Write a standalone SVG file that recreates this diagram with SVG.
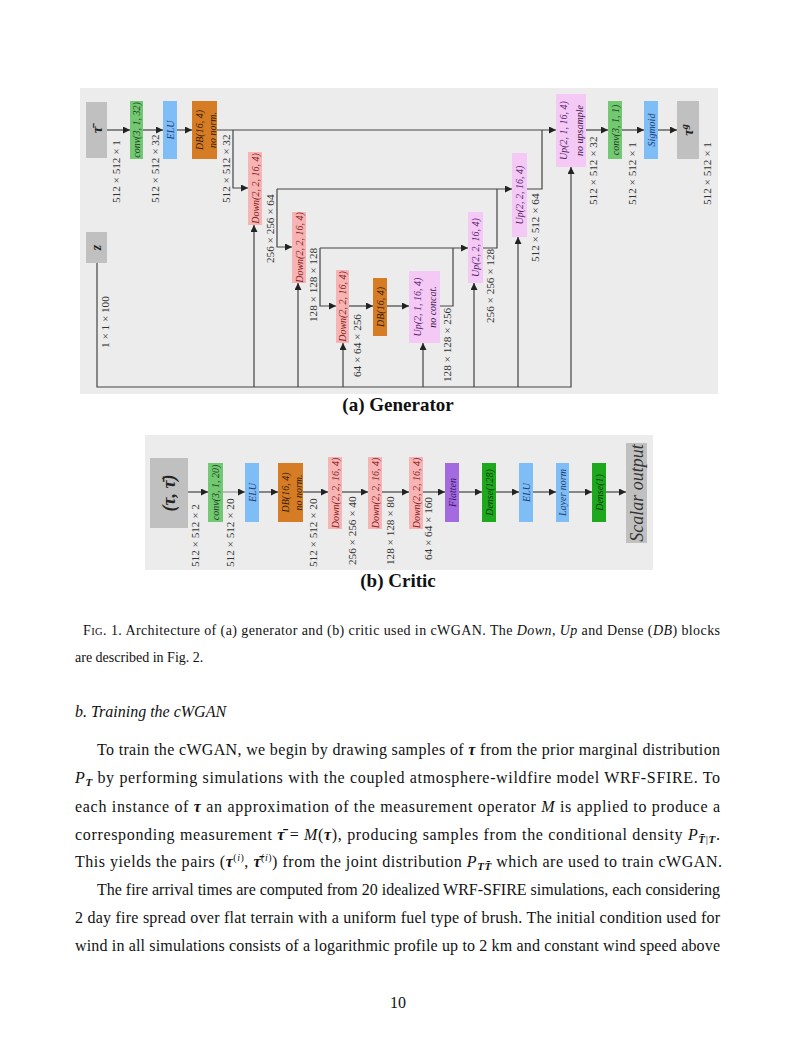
<svg xmlns="http://www.w3.org/2000/svg" width="787" height="1050" viewBox="0 0 787 1050">
<defs>
<marker id="ah" viewBox="0 0 10 10" refX="10" refY="5" markerWidth="7" markerHeight="7" markerUnits="userSpaceOnUse" orient="auto">
<path d="M0,0 L10,5 L0,10 z" fill="#222"/>
</marker>
</defs>
<style>
.panel{fill:#ececec}
.gray{fill:#c0c0c0}
.green{fill:#72c972}
.dgreen{fill:#1ea81e}
.blue{fill:#7fbdf6}
.orange{fill:#d57c25}
.pink{fill:#f7b4b4}
.lilac{fill:#f5c9f5}
.purple{fill:#a46be0}
.bl{font-family:"Liberation Serif","DejaVu Serif",serif;font-size:10px;font-style:italic;text-anchor:middle}
.dim{font-family:"Liberation Serif","DejaVu Serif",serif;font-size:11.2px;fill:#333}
.c{fill:none;stroke:#444;stroke-width:1.2}
.ca{fill:none;stroke:#444;stroke-width:1.2;marker-end:url(#ah)}
.tx{font-family:"Liberation Serif","Times New Roman",serif;font-size:16px;fill:#111}
.cap{font-family:"Liberation Serif","Times New Roman",serif;font-size:14px;fill:#111}
.ttl{font-family:"Liberation Serif","Times New Roman",serif;font-size:19px;font-weight:bold;fill:#111;text-anchor:middle}
.m{font-style:italic;font-weight:bold}
.i{font-style:italic}
</style>

<rect class="panel" x="80" y="88" width="638" height="306"/>
<rect class="panel" x="145" y="435" width="508" height="135"/>

<g id="connectors">
<path class="ca" d="M107,130 H130"/>
<path class="ca" d="M143,130 H163"/>
<path class="ca" d="M177,130 H192"/>
<path class="ca" d="M217,130 H556"/>
<path class="ca" d="M233,130 V188 H248"/>
<path class="ca" d="M277,189 H512"/>
<path class="ca" d="M277,189 V247 H292"/>
<path class="ca" d="M320,248 H468"/>
<path class="ca" d="M320,248 V306 H336"/>
<path class="ca" d="M349,306 H373"/>
<path class="ca" d="M387,306 H409"/>
<path class="c" d="M440,306 H453 V248"/>
<path class="c" d="M483,248 H497 V189"/>
<path class="c" d="M527,189 H542 V130"/>
<path class="ca" d="M586,130 H608"/>
<path class="ca" d="M622,130 H644"/>
<path class="ca" d="M658,130 H677"/>
<path class="ca" d="M97,263 V387 H571 V167"/>
<path class="ca" d="M254,387 V225"/>
<path class="ca" d="M298,387 V283"/>
<path class="ca" d="M343,387 V343"/>
<path class="ca" d="M423,387 V343"/>
<path class="ca" d="M474,387 V283"/>
<path class="ca" d="M518,387 V237"/>
<path class="ca" d="M188,492 H208"/>
<path class="ca" d="M223,492 H245" style="stroke:#999"/>
<path class="ca" d="M259,492 H278"/>
<path class="ca" d="M303,492 H328"/>
<path class="ca" d="M342,492 H368"/>
<path class="ca" d="M382,492 H409"/>
<path class="ca" d="M423,492 H445"/>
<path class="ca" d="M459,492 H482"/>
<path class="ca" d="M496,492 H519"/>
<path class="ca" d="M533,492 H556"/>
<path class="ca" d="M569,492 H592"/>
<path class="ca" d="M606,492 H626"/>
</g>

<!-- Generator nodes -->
<g id="g-taubar">
<rect class="gray" x="86" y="102" width="21" height="56"/>
<text transform="translate(96.5,130) rotate(-90)" dy="0.35em" style="font-family:'Liberation Serif',serif;font-size:15px;font-weight:bold;font-style:italic;text-anchor:middle;fill:#222">τ̄</text>
</g>
<g id="g-conv">
<rect class="green" x="130" y="101" width="13" height="58"/>
<text class="bl" transform="translate(136.5,130) rotate(-90)" dy="0.35em" fill="#1d3d1d">conv(3, 1, 32)</text>
</g>
<g id="g-elu">
<rect class="blue" x="163" y="101" width="14" height="58"/>
<text class="bl" transform="translate(170,130) rotate(-90)" dy="0.35em" fill="#1b3d7a">ELU</text>
</g>
<g id="g-db1">
<rect class="orange" x="192" y="101" width="25" height="58"/>
<text class="bl" transform="translate(199,130) rotate(-90)" dy="0.35em" fill="#3a1e05">DB(16, 4)</text>
<text class="bl" transform="translate(212,130) rotate(-90)" dy="0.35em" fill="#3a1e05">no norm.</text>
</g>
<g id="g-down1">
<rect class="pink" x="248" y="152" width="14" height="73"/>
<text class="bl" transform="translate(255,188.5) rotate(-90)" dy="0.35em" fill="#8a1c1c">Down(2, 2, 16, 4)</text>
</g>
<g id="g-down2">
<rect class="pink" x="292" y="212" width="14" height="71"/>
<text class="bl" transform="translate(299,247.5) rotate(-90)" dy="0.35em" fill="#8a1c1c">Down(2, 2, 16, 4)</text>
</g>
<g id="g-down3">
<rect class="pink" x="336" y="270" width="13" height="73"/>
<text class="bl" transform="translate(342.5,306.5) rotate(-90)" dy="0.35em" fill="#8a1c1c">Down(2, 2, 16, 4)</text>
</g>
<g id="g-db2">
<rect class="orange" x="373" y="278" width="14" height="58"/>
<text class="bl" transform="translate(380,307) rotate(-90)" dy="0.35em" fill="#3a1e05">DB(16, 4)</text>
</g>
<g id="g-upnc">
<rect class="lilac" x="409" y="271" width="31" height="72"/>
<text class="bl" transform="translate(417,307) rotate(-90)" dy="0.35em" fill="#5a1f6e">Up(2, 1, 16, 4)</text>
<text class="bl" transform="translate(432,307) rotate(-90)" dy="0.35em" fill="#3a1a4a">no concat.</text>
</g>
<g id="g-uplow">
<rect class="lilac" x="468" y="212" width="15" height="71"/>
<text class="bl" transform="translate(475.5,247.5) rotate(-90)" dy="0.35em" fill="#5a1f6e">Up(2, 2, 16, 4)</text>
</g>
<g id="g-upup">
<rect class="lilac" x="512" y="153" width="15" height="84"/>
<text class="bl" transform="translate(519.5,195) rotate(-90)" dy="0.35em" fill="#5a1f6e">Up(2, 2, 16, 4)</text>
</g>
<g id="g-upnu">
<rect class="lilac" x="556" y="94" width="30" height="73"/>
<text class="bl" transform="translate(563,130.5) rotate(-90)" dy="0.35em" fill="#5a1f6e">Up(2, 1, 16, 4)</text>
<text class="bl" transform="translate(579,130.5) rotate(-90)" dy="0.35em" fill="#3a1a4a">no upsample</text>
</g>
<g id="g-conv2">
<rect class="green" x="608" y="101" width="14" height="58"/>
<text class="bl" transform="translate(615,130) rotate(-90)" dy="0.35em" fill="#1d3d1d">conv(3, 1, 1)</text>
</g>
<g id="g-sig">
<rect class="blue" x="644" y="101" width="14" height="58"/>
<text class="bl" transform="translate(651,130) rotate(-90)" dy="0.35em" fill="#1b3d7a">Sigmoid</text>
</g>
<g id="g-taug">
<rect class="gray" x="677" y="101" width="22" height="58"/>
<text transform="translate(688,130) rotate(-90)" dy="0.35em" style="font-family:'Liberation Serif',serif;font-size:15px;font-weight:bold;font-style:italic;text-anchor:middle;fill:#222">τ<tspan dy="-5" style="font-size:10px">g</tspan></text>
</g>
<g id="g-z">
<rect class="gray" x="86" y="232" width="21" height="31"/>
<text transform="translate(96.5,247.5) rotate(-90)" dy="0.35em" style="font-family:'Liberation Serif',serif;font-size:14px;font-weight:bold;font-style:italic;text-anchor:middle;fill:#222">z</text>
</g>

<!-- Generator dims -->
<g id="g-dims">
<text class="dim" transform="translate(120,203) rotate(-90)">512 × 512 × 1</text>
<text class="dim" transform="translate(159,203) rotate(-90)">512 × 512 × 32</text>
<text class="dim" transform="translate(230,203) rotate(-90)">512 × 512 × 32</text>
<text class="dim" transform="translate(274,263) rotate(-90)">256 × 256 × 64</text>
<text class="dim" transform="translate(317,322) rotate(-90)">128 × 128 × 128</text>
<text class="dim" transform="translate(361,377) rotate(-90)">64 × 64 × 256</text>
<text class="dim" transform="translate(451,382) rotate(-90)">128 × 128 × 256</text>
<text class="dim" transform="translate(494,323) rotate(-90)">256 × 256 × 128</text>
<text class="dim" transform="translate(539,262) rotate(-90)">512 × 512 × 64</text>
<text class="dim" transform="translate(597,205) rotate(-90)">512 × 512 × 32</text>
<text class="dim" transform="translate(636,205) rotate(-90)">512 × 512 × 1</text>
<text class="dim" transform="translate(711,205) rotate(-90)">512 × 512 × 1</text>
<text class="dim" transform="translate(109,348) rotate(-90)">1 × 1 × 100</text>
</g>

<text class="ttl" x="398" y="411">(a) Generator</text>

<!-- Critic nodes -->
<g id="c-in">
<rect class="gray" x="150" y="458" width="38" height="70"/>
<text transform="translate(169,493) rotate(-90)" dy="0.35em" style="font-family:'Liberation Serif',serif;font-size:18px;font-weight:bold;font-style:italic;text-anchor:middle;fill:#222">(τ, τ̄)</text>
</g>
<g id="c-conv">
<rect class="green" x="208" y="463" width="15" height="59"/>
<text class="bl" transform="translate(215.5,492.5) rotate(-90)" dy="0.35em" fill="#1d3d1d">conv(3, 1, 20)</text>
</g>
<g id="c-elu">
<rect class="blue" x="245" y="463" width="14" height="59"/>
<text class="bl" transform="translate(252,492.5) rotate(-90)" dy="0.35em" fill="#1b3d7a">ELU</text>
</g>
<g id="c-db">
<rect class="orange" x="278" y="463" width="25" height="59"/>
<text class="bl" transform="translate(285,492.5) rotate(-90)" dy="0.35em" fill="#3a1e05">DB(16, 4)</text>
<text class="bl" transform="translate(298,492.5) rotate(-90)" dy="0.35em" fill="#3a1e05">no norm.</text>
</g>
<g id="c-down1">
<rect class="pink" x="328" y="457" width="14" height="72"/>
<text class="bl" transform="translate(335,493) rotate(-90)" dy="0.35em" fill="#8a1c1c">Down(2, 2, 16, 4)</text>
</g>
<g id="c-down2">
<rect class="pink" x="368" y="457" width="14" height="72"/>
<text class="bl" transform="translate(375,493) rotate(-90)" dy="0.35em" fill="#8a1c1c">Down(2, 2, 16, 4)</text>
</g>
<g id="c-down3">
<rect class="pink" x="409" y="457" width="14" height="72"/>
<text class="bl" transform="translate(416,493) rotate(-90)" dy="0.35em" fill="#8a1c1c">Down(2, 2, 16, 4)</text>
</g>
<g id="c-flat">
<rect class="purple" x="445" y="463" width="14" height="59"/>
<text class="bl" transform="translate(452,492.5) rotate(-90)" dy="0.35em" fill="#3a1466">Flatten</text>
</g>
<g id="c-dense128">
<rect class="dgreen" x="482" y="463" width="14" height="59"/>
<text class="bl" transform="translate(489,492.5) rotate(-90)" dy="0.35em" fill="#0b3d0b">Dense(128)</text>
</g>
<g id="c-elu2">
<rect class="blue" x="519" y="463" width="14" height="59"/>
<text class="bl" transform="translate(526,492.5) rotate(-90)" dy="0.35em" fill="#1b3d7a">ELU</text>
</g>
<g id="c-ln">
<rect class="blue" x="556" y="463" width="13" height="59"/>
<text class="bl" transform="translate(562.5,492.5) rotate(-90)" dy="0.35em" fill="#1b3d7a">Layer norm</text>
</g>
<g id="c-dense1">
<rect class="dgreen" x="592" y="463" width="14" height="59"/>
<text class="bl" transform="translate(599,492.5) rotate(-90)" dy="0.35em" fill="#0b3d0b">Dense(1)</text>
</g>
<g id="c-out">
<rect class="gray" x="626" y="443" width="21" height="100"/>
<text transform="translate(636.5,493) rotate(-90)" dy="0.35em" style="font-family:'Liberation Serif',serif;font-size:18px;font-style:italic;text-anchor:middle;fill:#333">Scalar output</text>
</g>

<g id="c-dims">
<text class="dim" transform="translate(199,567) rotate(-90)">512 × 512 × 2</text>
<text class="dim" transform="translate(234,567) rotate(-90)">512 × 512 × 20</text>
<text class="dim" transform="translate(317,567) rotate(-90)">512 × 512 × 20</text>
<text class="dim" transform="translate(356,565) rotate(-90)">256 × 256 × 40</text>
<text class="dim" transform="translate(394,565) rotate(-90)">128 × 128 × 80</text>
<text class="dim" transform="translate(432,560) rotate(-90)">64 × 64 × 160</text>
</g>

<text class="ttl" x="398" y="587">(b) Critic</text>

<!-- Caption and body text -->
<text class="cap" x="83" y="635" textLength="637" lengthAdjust="spacing">F<tspan style="font-size:10.5px">IG</tspan>. 1.  Architecture of (a) generator and (b) critic used in cWGAN. The <tspan class="i">Down</tspan>, <tspan class="i">Up</tspan> and Dense (<tspan class="i">DB</tspan>) blocks</text>
<text class="cap" x="75" y="662">are described in Fig. 2.</text>

<text class="tx i" x="75" y="717">b. Training the cWGAN</text>

<text class="tx" x="97" y="755" textLength="623" lengthAdjust="spacing">To train the cWGAN, we begin by drawing samples of <tspan class="m">τ</tspan> from the prior marginal distribution</text>
<text class="tx" x="75" y="783" textLength="645" lengthAdjust="spacing"><tspan class="i">P</tspan><tspan class="m" style="font-size:11px" dy="3">T</tspan><tspan dy="-3"> by performing simulations with the coupled atmosphere-wildfire model WRF-SFIRE. To</tspan></text>
<text class="tx" x="75" y="812" textLength="645" lengthAdjust="spacing">each instance of <tspan class="m">τ</tspan> an approximation of the measurement operator <tspan class="i">M</tspan> is applied to produce a</text>
<text class="tx" x="75" y="840" textLength="645" lengthAdjust="spacing">corresponding measurement <tspan class="m">τ̄</tspan> = <tspan class="i">M</tspan>(<tspan class="m">τ</tspan>), producing samples from the conditional density <tspan class="i">P</tspan><tspan class="m" style="font-size:11px" dy="3">T̄</tspan><tspan style="font-size:11px">|</tspan><tspan class="m" style="font-size:11px">T</tspan><tspan dy="-3">.</tspan></text>
<text class="tx" x="75" y="867" textLength="647" lengthAdjust="spacing">This yields the pairs (<tspan class="m">τ</tspan><tspan style="font-size:10px" dy="-6">(<tspan class="i">i</tspan>)</tspan><tspan dy="6">, </tspan><tspan class="m">τ̄</tspan><tspan style="font-size:10px" dy="-6">(<tspan class="i">i</tspan>)</tspan><tspan dy="6">) from the joint distribution </tspan><tspan class="i">P</tspan><tspan class="m" style="font-size:11px" dy="3">TT̄</tspan><tspan dy="-3"> which are used to train cWGAN.</tspan></text>
<text class="tx" x="97" y="895" textLength="623" lengthAdjust="spacing">The fire arrival times are computed from 20 idealized WRF-SFIRE simulations, each considering</text>
<text class="tx" x="75" y="923" textLength="645" lengthAdjust="spacing">2 day fire spread over flat terrain with a uniform fuel type of brush.  The initial condition used for</text>
<text class="tx" x="75" y="951" textLength="645" lengthAdjust="spacing">wind in all simulations consists of a logarithmic profile up to 2 km and constant wind speed above</text>

<text class="tx" x="398" y="1008" text-anchor="middle">10</text>
</svg>
